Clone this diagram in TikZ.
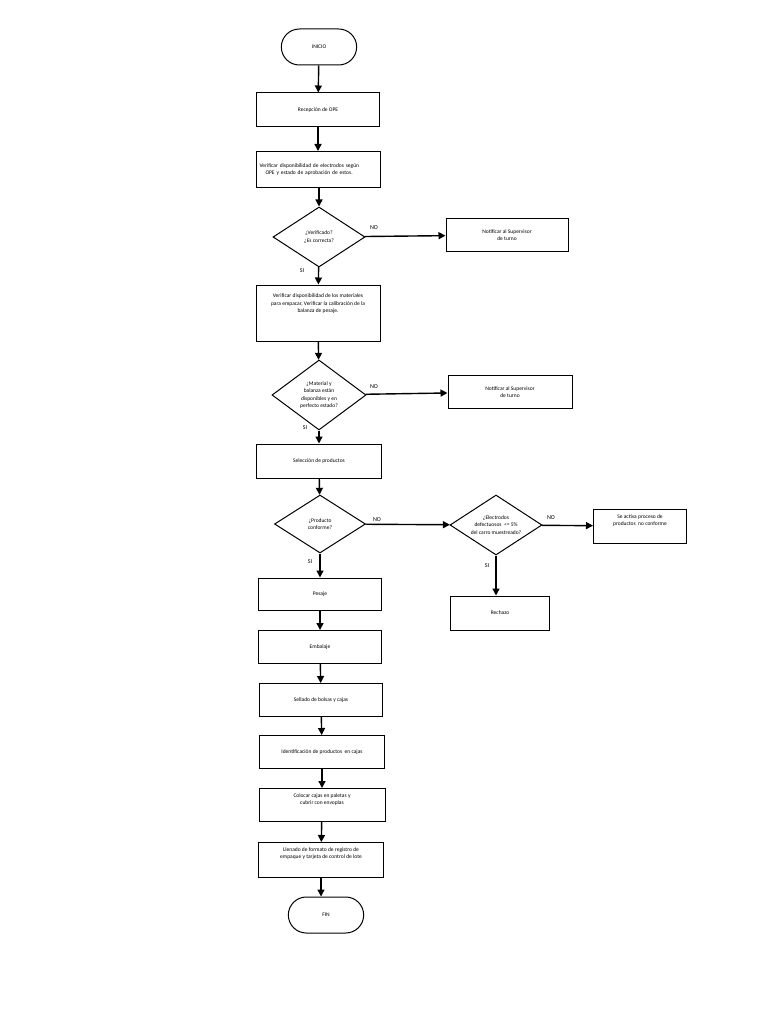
\documentclass[tikz,border=0pt]{standalone}
\usepackage{fontspec}
\setmainfont{Carlito}
\usetikzlibrary{shapes.geometric,shapes.misc,arrows.meta}

\begin{document}
\begin{tikzpicture}[x=1pt, y=-1pt, line width=1pt, font=\fontsize{5.5}{7.5}\selectfont]
  \tikzset{box/.style={draw, rectangle, align=center, inner sep=2pt},
    term/.style={draw, rounded rectangle, minimum width=82pt, minimum height=36pt},
    dec/.style={draw, diamond, aspect=1.55, align=center, inner sep=0pt},
    arr/.style={-{Triangle[length=7pt, width=7pt]}, line width=1.4pt},
    lbl/.style={font=\fontsize{6}{7}\selectfont}}
  \useasboundingbox (0,0) rectangle (768,1024);

  % terminals
  \node [term] (inicio) at (319,47) {INICIO};
  \node [term] (fin) at (326,915) {FIN};

  % main column
  \node [box, minimum width=123pt, minimum height=34pt] (recep) at (318,110) {Recepción de OPE};
  \node [box, minimum width=124pt, minimum height=36pt, anchor=north west, text width=118pt, align=left]
    (verif) at (256,151) {Verificar disponibilidad de electrodos según\\ \hspace*{6pt}OPE y estado de aprobación de estos.};
  \node [dec, minimum width=92pt, minimum height=60pt] (d1) at (319,237) {¿Verificado?\\¿Es correcta?};
  \node [box, minimum width=124pt, minimum height=56pt] (mat) at (318,313)
    {Verificar disponibilidad de los materiales\\para empacar, Verificar la calibración de la\\balanza de pesaje.\\[12pt]};
  \node [dec, minimum width=94pt, minimum height=70pt] (d2) at (319,395) {¿Material y\\balanza están\\disponibles y en\\perfecto estado?};
  \node [box, minimum width=125pt, minimum height=34pt] (selec) at (319,461) {Selección de productos};
  \node [dec, minimum width=91pt, minimum height=58pt] (d3) at (320,524) {¿Producto\\conforme?};
  \node [box, minimum width=123pt, minimum height=32pt] (pesaje) at (320,594) {Pesaje};
  \node [box, minimum width=123pt, minimum height=33pt] (embal) at (320,647) {Embalaje};
  \node [box, minimum width=123pt, minimum height=33pt] (sell) at (321,700) {Sellado de bolsas y cajas};
  \node [box, minimum width=125pt, minimum height=33pt] (ident) at (322,752) {Identificación de productos \ en cajas};
  \node [box, minimum width=126pt, minimum height=33pt] (coloc) at (322,805) {Colocar cajas en paletas y\\cubrir con envoplas\\[4pt]};
  \node [box, minimum width=125pt, minimum height=35pt] (llen) at (321,860) {Llenado de formato de registro de\\empaque y tarjeta de control de lote\\[6pt]};

  % side branches
  \node [box, minimum width=122pt, minimum height=32pt] (notif1) at (507,235) {Notificar al Supervisor\\de turno};
  \node [box, minimum width=124pt, minimum height=33pt] (notif2) at (510,392) {Notificar al Supervisor\\de turno};
  \node [dec, minimum width=92pt, minimum height=60pt] (d4) at (496,525) {¿Electrodos\\defectuosos \ <= 5\%\\del carro muestreado?};
  \node [box, minimum width=93pt, minimum height=34pt] (activa) at (640,526) {Se activa proceso de\\productos \ no conforme\\[4pt]};
  \node [box, minimum width=99pt, minimum height=34pt] (rech) at (500,613) {Rechazo};

  % Edges
  \draw [arr] (inicio) -- (recep);
  \draw [arr] (recep) -- (recep |- verif.north);
  \draw [arr] (verif.south -| d1) -- (d1);
  \draw [arr] (d1) -- (mat);
  \draw [arr] (d1) -- (notif1);
  \draw [arr] (mat) -- (d2);
  \draw [arr] (d2) -- (notif2);
  \draw [arr] (d2) -- (d2 |- selec.north);
  \draw [arr] (selec) -- (d3);
  \draw [arr] (d3) -- (pesaje);
  \draw [arr] (d3) -- (d4);
  \draw [arr] (d4) -- (activa);
  \draw [arr] (d4.south) -- (d4.south |- rech.north);
  \draw [arr] (pesaje) -- (embal);
  \draw [arr] (embal) -- (sell);
  \draw [arr] (sell) -- (ident);
  \draw [arr] (ident) -- (coloc);
  \draw [arr] (coloc) -- (llen);
  \draw [arr] (llen) -- (llen |- fin.north);

  % labels
  \node [lbl] (si1) at (302,271) {SI};
  \node [lbl] (no1) at (374,228) {NO};
  \node [lbl] (si2) at (305,428) {SI};
  \node [lbl] (no2) at (374,387) {NO};
  \node [lbl] (si3) at (310,562) {SI};
  \node [lbl] (no3) at (377,520) {NO};
  \node [lbl] (no4) at (551,518) {NO};
  \node [lbl] (si4) at (487,566) {SI};
\end{tikzpicture}
\end{document}
